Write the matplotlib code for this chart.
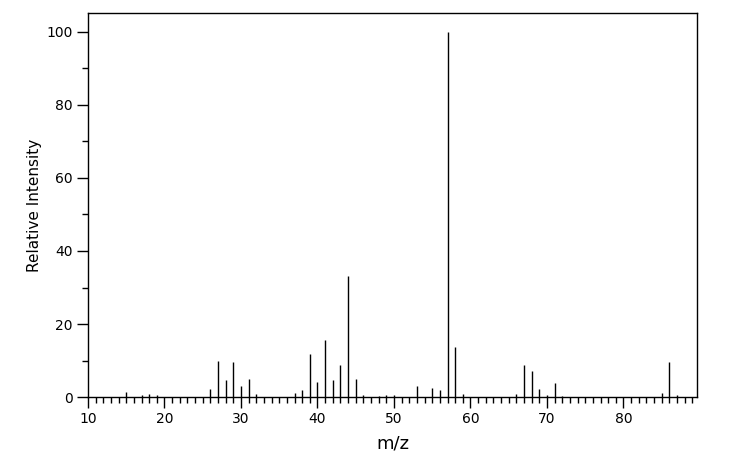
import numpy as np
import matplotlib.pyplot as plt
from matplotlib.ticker import MultipleLocator

# peak list
mz = [15, 17, 18, 19, 26, 27, 28, 29, 30, 31, 32, 37, 38, 39, 40, 41, 42, 43, 44,
      45, 46, 48, 49, 50, 53, 55, 56, 57, 58, 59, 66, 67, 68, 69, 70, 71, 72, 85,
      86, 87]
intensity = [1.5, 0.5, 0.9, 0.5, 2.1, 9.8, 4.7, 9.7, 3.0, 4.9, 0.7, 1.0, 1.9, 11.8,
             4.1, 15.6, 4.7, 8.8, 33.2, 5.0, 0.5, 0.4, 0.6, 0.5, 2.9, 2.5, 1.9,
             100.0, 13.8, 0.8, 0.7, 8.7, 7.2, 2.2, 0.5, 3.8, 0.4, 1.0, 9.5, 0.5]

fig = plt.figure(figsize=(7.29, 4.68), dpi=100)
ax = fig.add_axes([0.1207, 0.1517, 0.8353, 0.8205])

ax.vlines(mz, 0, intensity, color="black", linewidth=1.0)

ax.set_xlim(10, 89.6)
ax.set_ylim(0, 105.2)

ax.xaxis.set_major_locator(MultipleLocator(10))
ax.xaxis.set_minor_locator(MultipleLocator(1))
ax.yaxis.set_major_locator(MultipleLocator(20))
ax.yaxis.set_minor_locator(MultipleLocator(10))
ax.tick_params(which="major", direction="out", length=8, width=1.0,
               labelsize=10, color="black", pad=3)
ax.tick_params(which="minor", direction="out", length=4.5, width=1.0, color="black")

for s in ax.spines.values():
    s.set_linewidth(1.0)

ax.set_xlabel("m/z", fontsize=13, labelpad=6)
ax.set_ylabel("Relative Intensity", fontsize=11, labelpad=3)

fig.savefig("out.png", dpi=100)
